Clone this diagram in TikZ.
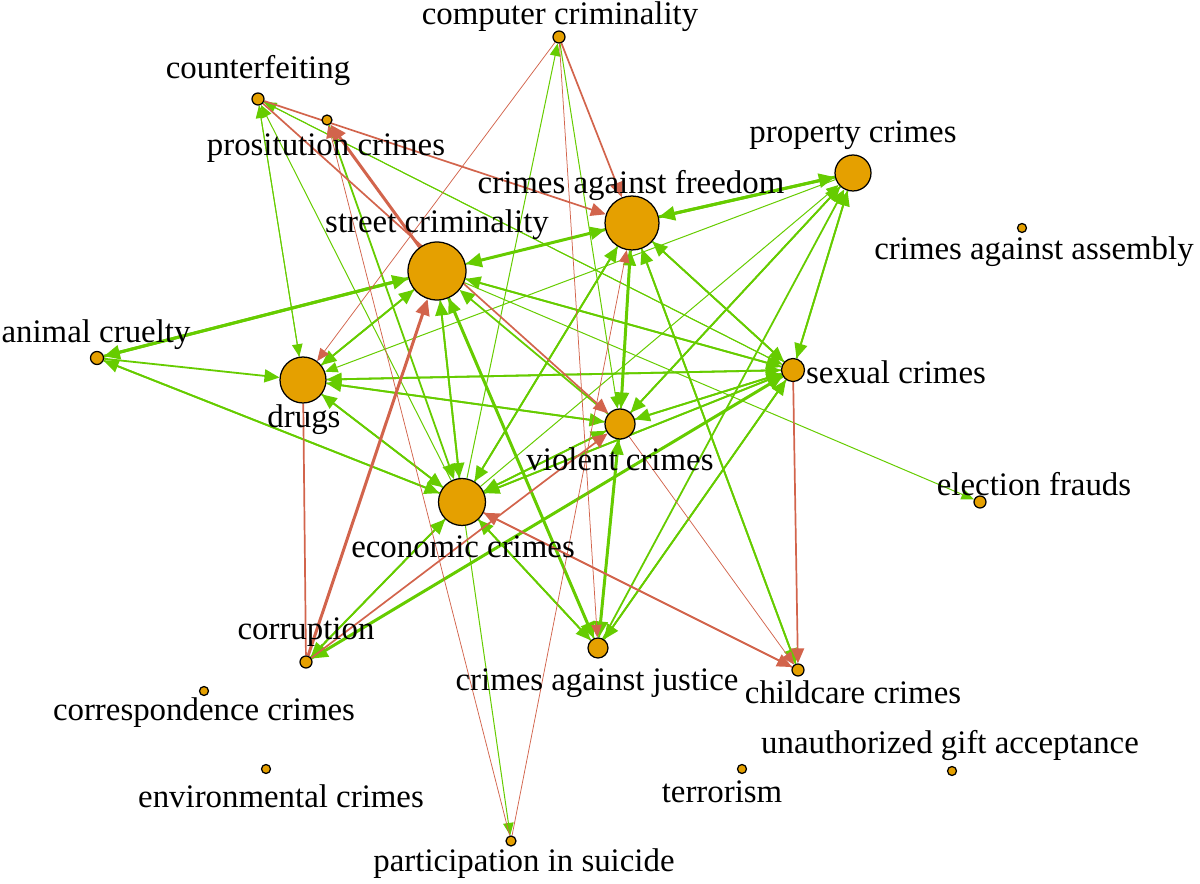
\documentclass[tikz,border=0pt]{standalone}
\usepackage{fontspec}
\setmainfont{Liberation Serif}
\usetikzlibrary{arrows.meta}
\pgfdeclarelayer{background}
\pgfsetlayers{background,main}
\definecolor{gr}{RGB}{102,204,0}
\definecolor{rd}{RGB}{210,100,76}
\definecolor{nodeor}{RGB}{229,160,0}
\tikzset{
 nd/.style={circle,draw=black,line width=0.25mm,fill=nodeor,inner sep=0pt},
 lb/.style={font=\fontsize{18.7}{21}\selectfont,inner sep=0pt},
 gT/.style={draw=gr,line width=0.6mm,-{Triangle[length=3.2mm,width=2.8mm]}},
 gM/.style={draw=gr,line width=0.36mm,-{Triangle[length=3mm,width=2.6mm]}},
 gt/.style={draw=gr,line width=0.2mm,-{Triangle[length=2.5mm,width=2.1mm]}},
 rT/.style={draw=rd,line width=0.6mm,-{Triangle[length=3.2mm,width=2.8mm]}},
 rM/.style={draw=rd,line width=0.34mm,-{Triangle[length=3mm,width=2.6mm]}},
 rt/.style={draw=rd,line width=0.15mm,-{Triangle[length=2.5mm,width=2.1mm]}},
 rnone/.style={draw=rd,line width=0.34mm},
}
\begin{document}
\begin{tikzpicture}[x=0.02cm,y=-0.02cm]
\useasboundingbox (0,0) rectangle (1200,884);
% nodes
\node[nd,minimum size=2.4mm] (CC) at (559,37) {};
\node[nd,minimum size=2.4mm] (CF) at (258,99) {};
\node[nd,minimum size=2.0mm] (PR) at (327,120) {};
\node[nd,minimum size=7.2mm] (PC) at (853,173) {};
\node[nd,minimum size=10.8mm] (CAF) at (632,223) {};
\node[nd,minimum size=1.8mm] (CAA) at (1022,228) {};
\node[nd,minimum size=11.6mm] (SC) at (437,271) {};
\node[nd,minimum size=2.6mm] (AC) at (97,358) {};
\node[nd,minimum size=9.2mm] (DR) at (303,380) {};
\node[nd,minimum size=4.6mm] (SX) at (793,370) {};
\node[nd,minimum size=6.0mm] (VC) at (620,424) {};
\node[nd,minimum size=2.4mm] (EF) at (980,502) {};
\node[nd,minimum size=9.4mm] (EC) at (462,502) {};
\node[nd,minimum size=2.4mm] (CO) at (306,662) {};
\node[nd,minimum size=4.0mm] (CJ) at (598,648) {};
\node[nd,minimum size=2.4mm] (CH) at (798,670) {};
\node[nd,minimum size=1.8mm] (CR) at (204,691) {};
\node[nd,minimum size=1.8mm] (UG) at (952,771) {};
\node[nd,minimum size=1.8mm] (EN) at (266,769) {};
\node[nd,minimum size=1.8mm] (TE) at (742,769) {};
\node[nd,minimum size=2.0mm] (PS) at (511,841) {};
% labels
\node[lb] (lCC) at (560,17) {computer criminality};
\node[lb] (lCF) at (258,70) {counterfeiting};
\node[lb] (lPR) at (326,148) {prositution crimes};
\node[lb] (lPC) at (853,135) {property crimes};
\node[lb] (lCAF) at (631,185) {crimes against freedom};
\node[lb] (lCAA) at (1034,252) {crimes against assembly};
\node[lb] (lSC) at (437,225) {street criminality};
\node[lb] (lAC) at (96,335) {animal cruelty};
\node[lb] (lDR) at (304,420) {drugs};
\node[lb] (lSX) at (896,372) {sexual crimes};
\node[lb] (lVC) at (620,459) {violent crimes};
\node[lb] (lEF) at (1034,484) {election frauds};
\node[lb] (lEC) at (463,547) {economic crimes};
\node[lb] (lCO) at (306,632) {corruption};
\node[lb] (lCJ) at (597,683) {crimes against justice};
\node[lb] (lCH) at (853,692) {childcare crimes};
\node[lb] (lCR) at (204,713) {correspondence crimes};
\node[lb] (lUG) at (950,745) {unauthorized gift acceptance};
\node[lb] (lEN) at (281,796) {environmental crimes};
\node[lb] (lTE) at (722,792) {terrorism};
\node[lb] (lPS) at (524,864) {participation in suicide};
\begin{pgfonlayer}{background}
% green edges
\draw[gT] (SC) -- (AC);
\draw[gT] (AC) -- (SC);
\draw[gM] (AC) -- (DR);
\draw[gM] (EC) -- (AC);
\draw[gM] (AC) -- (EC);
\draw[gT] (CAF) -- (SC);
\draw[gM] (SC) -- (CAF);
\draw[gT] (PC) -- (CAF);
\draw[gT] (CAF) -- (PC);
\draw[gT] (CAF) -- (VC);
\draw[gM] (VC) -- (CAF);
\draw[gM] (EC) -- (CAF);
\draw[gM] (CAF) -- (EC);
\draw[gM] (SX) -- (CAF);
\draw[gM] (CAF) -- (SX);
\draw[gM] (PC) -- (SX);
\draw[gM] (SX) -- (PC);
\draw[gM] (VC) -- (PC);
\draw[gM] (PC) -- (VC);
\draw[gM] (CJ) -- (PC);
\draw[gt] (EC) -- (PC);
\draw[gt] (PC) -- (DR);
\draw[gM] (CAF) -- (CH);
\draw[gM] (CH) -- (CAF);
\draw[gt] (CF) -- (DR);
\draw[gt] (DR) -- (CF);
\draw[gt] (EC) -- (CF);
\draw[gt] (CF) -- (SX);
\draw[gt] (SX) -- (CF);
\draw[gM] (PR) -- (EC);
\draw[gt] (EC) -- (CC);
\draw[gt] (CC) -- (VC);
\draw[gt] (SC) -- (EF);
\draw[gM] (SC) -- (DR);
\draw[gM] (DR) -- (SC);
\draw[gM] (EC) -- (SC);
\draw[gM] (SC) -- (EC);
\draw[gT] (SC) -- (CJ);
\draw[gM] (CJ) -- (SC);
\draw[gM] (DR) -- (EC);
\draw[gM] (EC) -- (DR);
\draw[gM] (VC) -- (DR);
\draw[gM] (DR) -- (VC);
\draw[gM] (SX) -- (DR);
\draw[gM] (DR) -- (SX);
\draw[gM] (SX) -- (SC);
\draw[gM] (SC) -- (SX);
\draw[gM] (VC) -- (SC);
\draw[gM] (EC) -- (SX);
\draw[gM] (SX) -- (EC);
\draw[gT] (SX) -- (CO);
\draw[gM] (CO) -- (SX);
\draw[gM] (EC) -- (CO);
\draw[gM] (CO) -- (EC);
\draw[gM] (CJ) -- (SX);
\draw[gM] (SX) -- (CJ);
\draw[gT] (VC) -- (CJ);
\draw[gM] (CJ) -- (VC);
\draw[gM] (EC) -- (CJ);
\draw[gM] (CJ) -- (EC);
\draw[gt] (EC) -- (PS);
\draw[gM] (SX) -- (VC);
\draw[gM] (VC) -- (SX);
\draw[gM] (VC) -- (EC);
\draw[gM] (EC) -- (VC);
% red edges
\draw[rT] (SC) -- (PR);
\draw[rT] (CO) -- (SC);
\draw[rM] (CF) -- (CAF);
\draw[rM] (CO) -- (VC);
\draw[rM] (CH) -- (EC);
\draw[rM] (EC) -- (CH);
\draw[rM] (SX) -- (CH);
\draw[rt] (VC) -- (CH);
\draw[rM] (CF) -- (VC);
\draw[rnone] (DR) -- (CO);
\draw[rt] (PS) -- (CAF);
\draw[rt] (PS) -- (PR);
\draw[rt] (CC) -- (CJ);
\draw[rM] (CC) -- (CAF);
\draw[rt] (CC) -- (DR);
\end{pgfonlayer}
\end{tikzpicture}
\end{document}
